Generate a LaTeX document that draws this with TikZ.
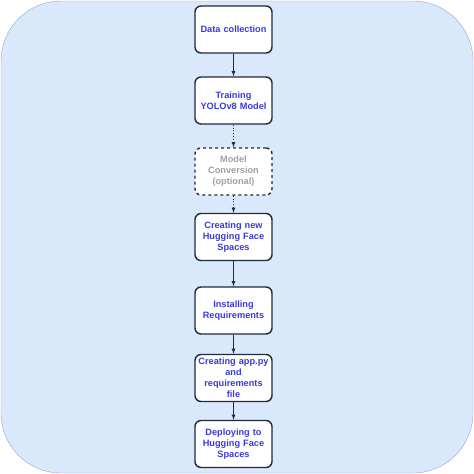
\documentclass[tikz,border=0pt]{standalone}
\usepackage{fontspec}
\setmainfont{Liberation Sans}
\usepackage{tikz}
\usetikzlibrary{positioning,arrows}
\definecolor{bgfill}{HTML}{DAE8FC}
\definecolor{bgline}{HTML}{8FA8CF}
\definecolor{boxline}{HTML}{1E2B3C}
\definecolor{txtblue}{HTML}{3A3ADA}
\definecolor{txtgrey}{HTML}{A0A0A0}

\begin{document}
\begin{tikzpicture}[x=1pt,y=-1pt,->,>=latex,
    stepnode/.style={rectangle,rounded corners=6pt,draw=boxline,line width=1.4pt,fill=white,minimum width=77pt,minimum height=47pt,inner sep=1pt,align=center,text width=75pt,font=\fontsize{9.2}{11}\selectfont\bfseries,text=txtblue},
    optnode/.style={stepnode,dashed,text=txtgrey},
    link/.style={draw=boxline,line width=0.8pt}]
		\useasboundingbox (0,0) rectangle (474,474);
		\draw[-,fill=bgfill,draw=bgline,rounded corners=60pt] (1,1) rectangle (473,473);
		\node [stepnode] (collect) at (233.5, 29.5) {Data collection};
		\node [stepnode] (train) at (233.5, 100.5) {Training\\YOLOv8 Model};
		\node [optnode] (convert) at (233.5, 171.5) {Model\\Conversion\\(optional)};
		\node [stepnode] (spaces) at (233.5, 237) {Creating new\\Hugging Face\\Spaces};
		\node [stepnode] (install) at (233.5, 310.5) {Installing\\Requirements};
		\node [stepnode] (appfile) at (233.5, 378) {Creating app.py\\and\\requirements\\file};
		\node [stepnode] (deploy) at (233.5, 444) {Deploying to\\Hugging Face\\Spaces};
		\draw[link] (collect) to (train);
		\draw[link,dotted] (train) to (convert);
		\draw[link,dotted] (convert) to (spaces);
		\draw[link] (spaces) to (install);
		\draw[link] (install) to (appfile);
		\draw[link] (appfile) to (deploy);
	\end{tikzpicture}
\end{document}
